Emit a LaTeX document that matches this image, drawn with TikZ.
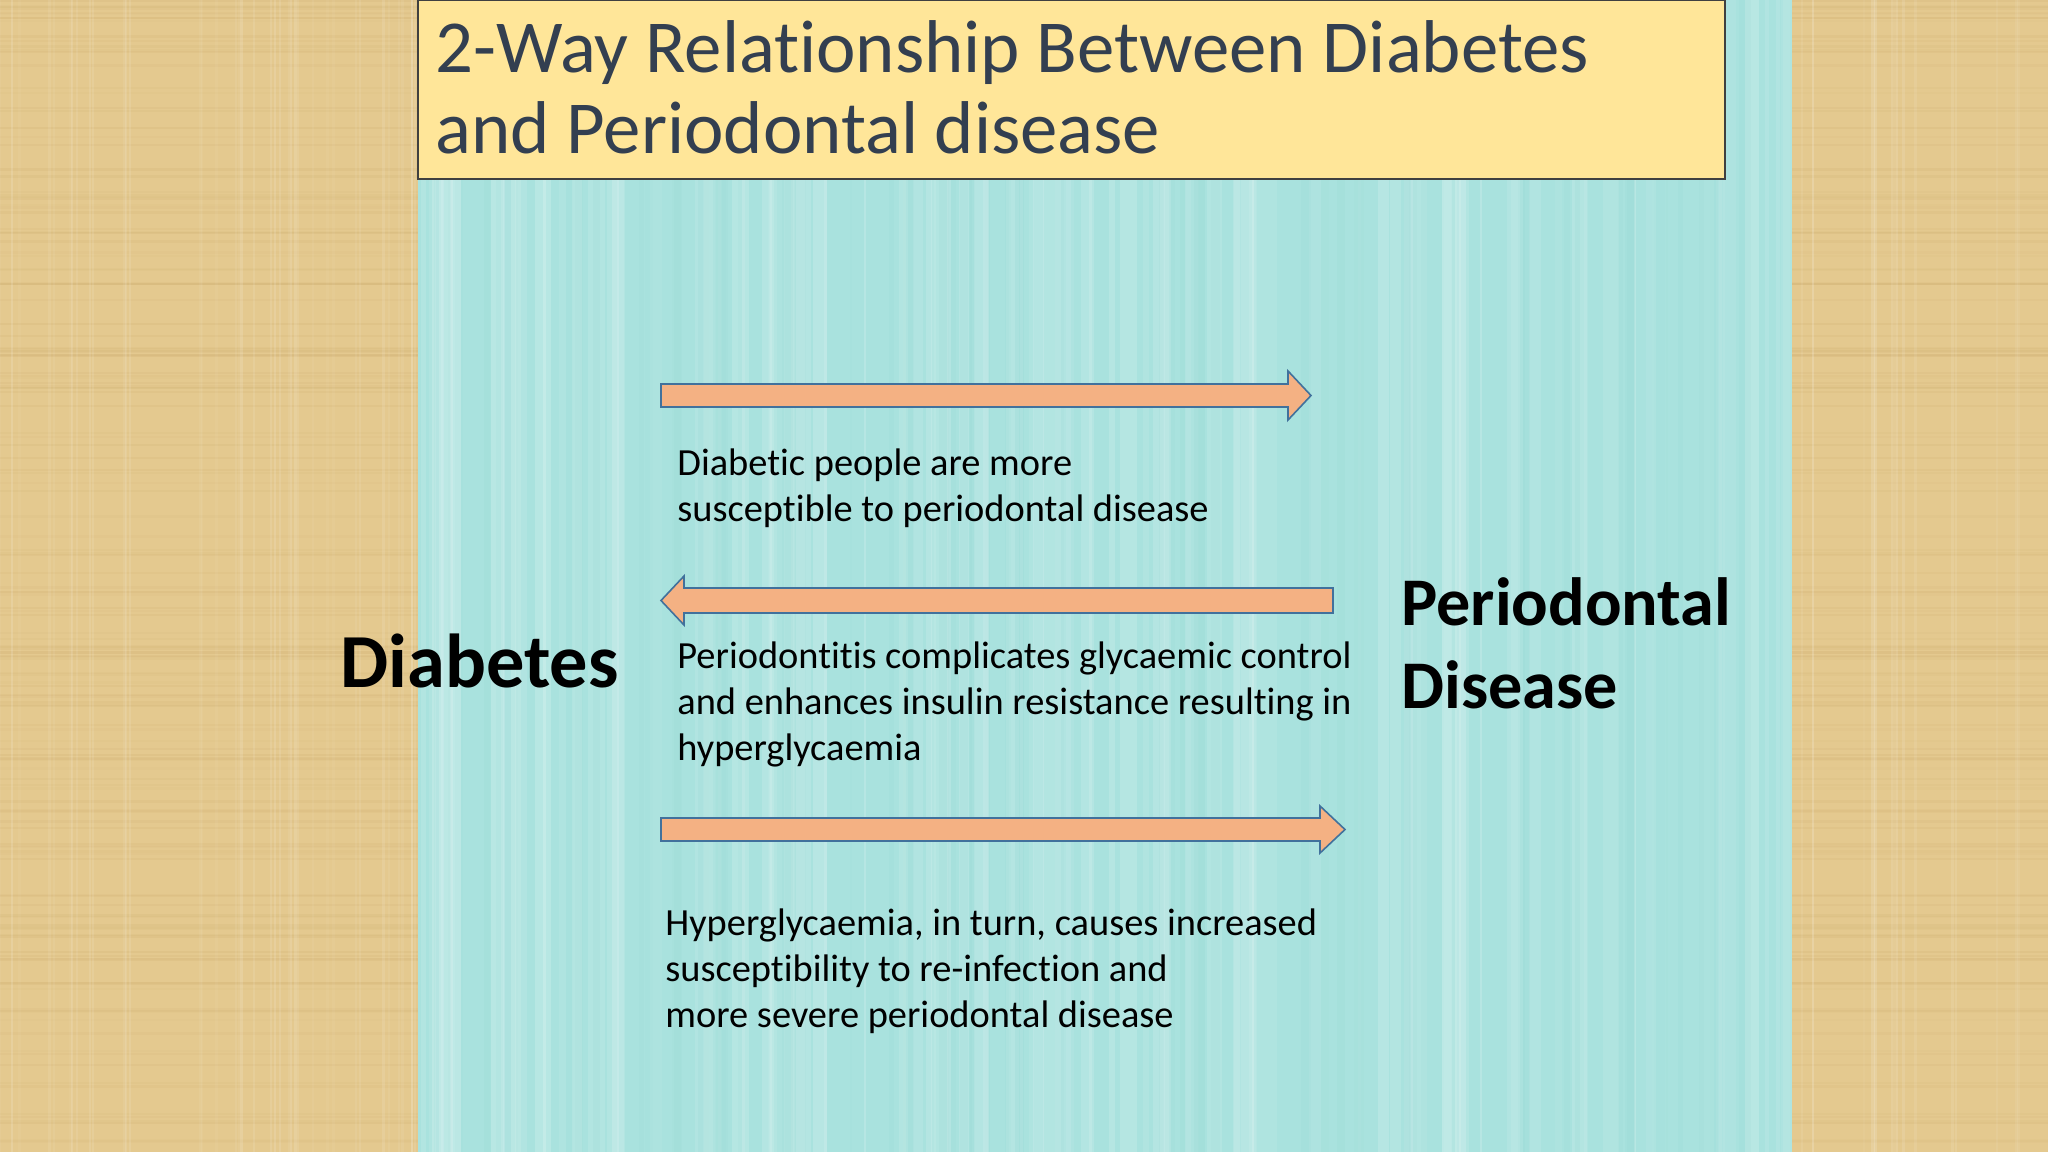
\documentclass[tikz,border=0pt]{standalone}
\usepackage{fontspec}
\setmainfont{Carlito}[Ligatures={NoCommon}]
\definecolor{beige}{HTML}{E4C98F}
\definecolor{beigedk}{HTML}{C9A868}
\definecolor{teal}{HTML}{A9E2DE}
\definecolor{tealdk}{HTML}{8BD3CE}
\definecolor{titlefill}{HTML}{FFE699}
\definecolor{titletext}{HTML}{333F50}
\definecolor{arrowfill}{HTML}{F4B183}
\definecolor{arrowline}{HTML}{41719C}
\tikzset{
  blockarrow/.style={fill=arrowfill, draw=arrowline, line width=0.8pt, line join=miter},
  bodytext/.style={anchor=base west, align=left, inner sep=0pt, text=black, font=\fontsize{19.2}{23}\selectfont},
  bigtext/.style={anchor=base west, align=left, inner sep=0pt, text=black, font=\fontsize{38.2}{41}\selectfont\bfseries},
  bigtextsm/.style={anchor=base west, align=left, inner sep=0pt, text=black, font=\fontsize{34.1}{41.5}\selectfont\bfseries},
  titletextstyle/.style={anchor=base west, align=left, inner sep=0pt, text=titletext, font=\fontsize{37.4}{40.5}\selectfont},
}
\begin{document}
\begin{tikzpicture}[x=0.5pt,y=-0.5pt]
\useasboundingbox (0,0) rectangle (2048,1152);
% beige background with woven texture
\fill[beige] (0,0) rectangle (2048,1152);
\pgfmathsetseed{11}
\foreach \i in {1,...,160}{
  \pgfmathsetmacro\yy{1152*rnd}
  \pgfmathsetmacro\op{0.05+0.12*rnd}
  \draw[beigedk, opacity=\op, line width=1.2pt] (0,\yy) -- (2048,\yy);
}
\foreach \i in {1,...,160}{
  \pgfmathsetmacro\xx{2048*rnd}
  \pgfmathsetmacro\op{0.04+0.10*rnd}
  \draw[white, opacity=\op, line width=1.2pt] (\xx,0) -- (\xx,1152);
}
% teal panel with vertical streaks
\begin{scope}
\clip (418,0) rectangle (1792,1152);
\fill[teal] (418,0) rectangle (1792,1152);
\foreach \i in {1,...,110}{
  \pgfmathsetmacro\xx{418+1374*rnd}
  \pgfmathsetmacro\ww{2+16*rnd}
  \pgfmathsetmacro\op{0.04+0.14*rnd}
  \fill[white, opacity=\op] (\xx,0) rectangle ++(\ww,1152);
}
\foreach \i in {1,...,60}{
  \pgfmathsetmacro\xx{418+1374*rnd}
  \pgfmathsetmacro\ww{2+10*rnd}
  \pgfmathsetmacro\op{0.04+0.10*rnd}
  \fill[tealdk, opacity=\op] (\xx,0) rectangle ++(\ww,1152);
}
\end{scope}
% title box
\draw[fill=titlefill, draw=black!75, line width=0.8pt] (418,0) rectangle (1725,179);
\node[titletextstyle] (title) at (435,153) {2-Way Relationship Between Diabetes\\and Periodontal disease};
% big labels
\node[bigtext] (diab) at (340,687) {Diabetes};
\node[bigtextsm] (perio) at (1401,708) {Periodontal\\Disease};
% block arrows
\draw[blockarrow] (661,384) -- (1288,384) -- (1288,371) -- (1311,395.5) -- (1288,420) -- (1288,407) -- (661,407) -- cycle;
\draw[blockarrow] (1333,588) -- (684,588) -- (684,576) -- (661,600.5) -- (684,625) -- (684,613) -- (1333,613) -- cycle;
\draw[blockarrow] (661,818) -- (1320,818) -- (1320,806) -- (1345,829.5) -- (1320,853) -- (1320,841) -- (661,841) -- cycle;
% explanatory texts
\node[bodytext] (t1) at (677,521) {Diabetic people are more\\susceptible to periodontal disease};
\node[bodytext] (t2) at (677,760) {Periodontitis complicates glycaemic control\\and enhances insulin resistance resulting in\\hyperglycaemia};
\node[bodytext] (t3) at (665,1027) {Hyperglycaemia, in turn, causes increased\\susceptibility to re-infection and\\more severe periodontal disease};
\end{tikzpicture}
\end{document}
